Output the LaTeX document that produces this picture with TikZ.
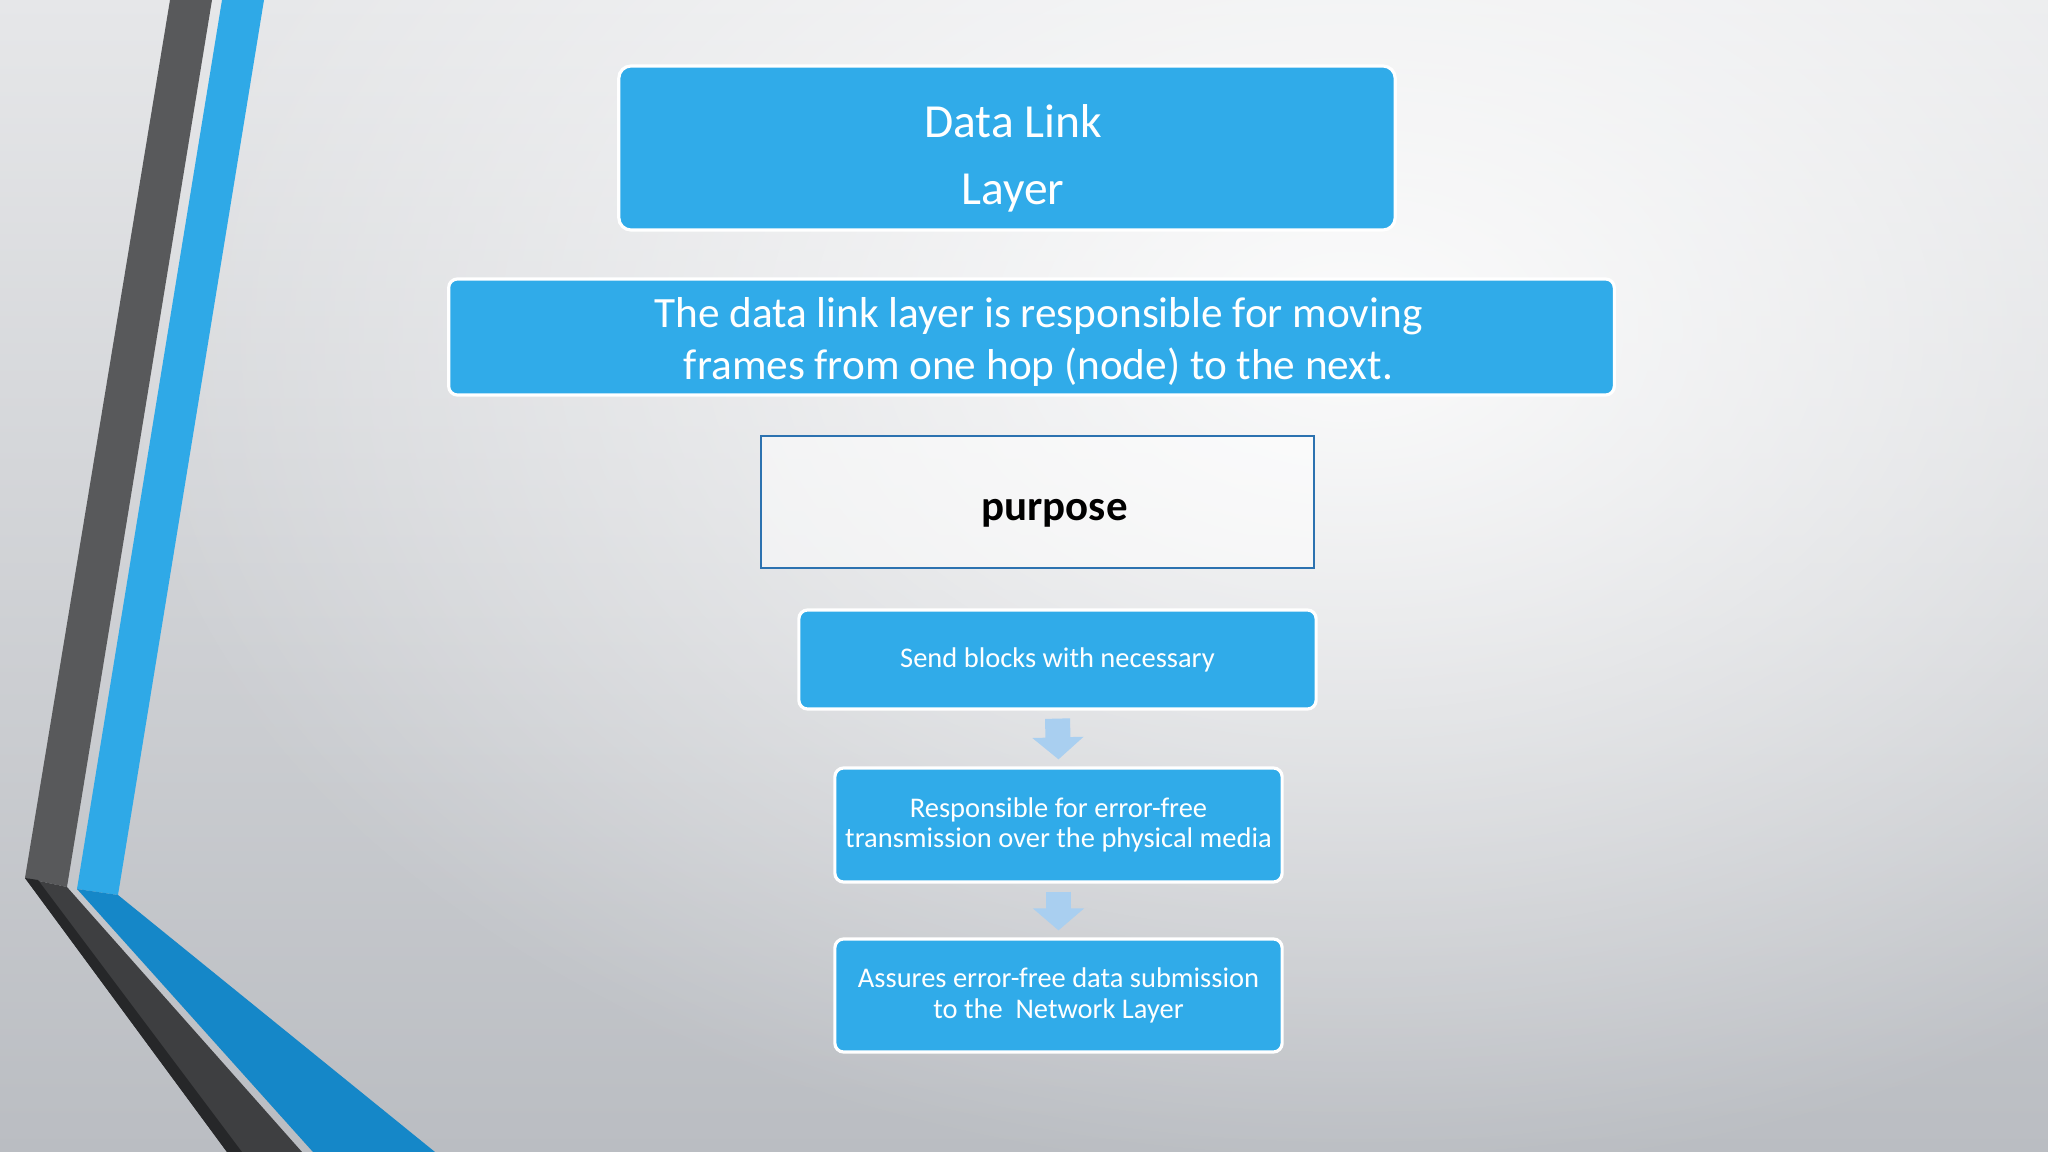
\documentclass[tikz,border=0pt]{standalone}
\usepackage{fontspec}
\setmainfont{Carlito}
\usetikzlibrary{arrows.meta,fadings}

\definecolor{boxblue}{HTML}{30ABE9}
\definecolor{arrowblue}{HTML}{A9CFF0}
\definecolor{stripegray}{HTML}{58595B}
\definecolor{stripedark}{HTML}{3E3F41}
\definecolor{stripeedge}{HTML}{262729}
\definecolor{stripeblue}{HTML}{2FA9E7}
\definecolor{stripedeep}{HTML}{1587C8}
\definecolor{frameblue}{HTML}{2C72B0}
\definecolor{bgtop}{HTML}{E6E7E9}
\definecolor{bgbottom}{HTML}{BABDC2}

\tikzfading[name=glow, inner color=transparent!0, outer color=transparent!100]

\begin{document}
\begin{tikzpicture}[x=0.01cm, y=-0.01cm,
		bluebox/.style={draw=white, line width=0.9pt, fill=boxblue, text=white, rounded corners=2.5pt, align=center, inner sep=0pt},
		boxtext/.style={text=white, align=center, inner sep=0pt},
		flowbox/.style={bluebox, font=\fontsize{8.1}{8.7}\selectfont},
		flowarrow/.style={arrowblue, line width=0.25cm, -{Triangle[width=0.5cm, length=0.22cm]}}]
	\useasboundingbox (0,0) rectangle (2048,1152);
	
	% background
	\shade[top color=bgtop, bottom color=bgbottom] (0,0) rectangle (2048,1152);
	\begin{scope}
		\clip (0,0) rectangle (2048,1152);
		\fill[white, path fading=glow, fill opacity=0.9] (1350,330) ellipse (1250 and 850);
	\end{scope}
	
	% stripes on the left
	\fill[stripegray] (170,0) -- (212,0) -- (67,887) -- (25,878) -- cycle;
	\fill[stripedark] (25,878) -- (67,887) -- (302,1152) -- (227,1152) -- cycle;
	\fill[stripeedge] (25,878) -- (38,880) -- (242,1152) -- (227,1152) -- cycle;
	\fill[stripeblue] (222,0) -- (264,0) -- (118,895) -- (77,889) -- cycle;
	\fill[stripedeep] (77,889) -- (118,895) -- (435,1152) -- (313,1152) -- cycle;
	
	% boxes on top
	\node[bluebox, rounded corners=3.5pt, minimum width=7.76cm, minimum height=1.64cm] (title) at (1007,148) {};
	\node[boxtext, font=\fontsize{13.5}{19}\selectfont] (titletext) at ([xshift=0.06cm, yshift=-0.1cm]title.center) {Data Link\\Layer};
	
	\node[bluebox, minimum width=11.65cm, minimum height=1.16cm] (defn) at (1031.5,337) {};
	\node[boxtext, font=\fontsize{12.3}{15}\selectfont] (defntext) at ([xshift=0.07cm, yshift=-0.05cm]defn.center) {The data link layer is responsible for moving\\frames from one hop (node) to the next.};
	
	\node[draw=frameblue, line width=0.7pt, fill=white, fill opacity=0.5, minimum width=5.53cm, minimum height=1.32cm] (purpose) at (1037.5,502) {};
	\node[font=\bfseries\fontsize{12.2}{15}\selectfont, inner sep=0pt] (purposetext) at ([xshift=0.17cm, yshift=-0.11cm]purpose.center) {purpose};
	
	% flow
	\foreach \name/\cx/\cy/\w/\h/\txt in {send/1057.5/659.5/5.17/0.99/{Send blocks with necessary},
		resp/1058.5/825/4.47/1.14/{Responsible for error-free\\transmission over the physical media},
		assure/1058.5/995.5/4.47/1.13/{Assures error-free data submission\\to the~~Network Layer}}
	{
		\node[flowbox, minimum width=\w cm, minimum height=\h cm] (\name) at (\cx,\cy) {\txt};
	}
	
	\foreach \a/\b in {send/resp, resp/assure}
		\draw[flowarrow] ([yshift=-0.08cm]\a.south) -- ([yshift=0.07cm]\b.north);
\end{tikzpicture}
\end{document}
